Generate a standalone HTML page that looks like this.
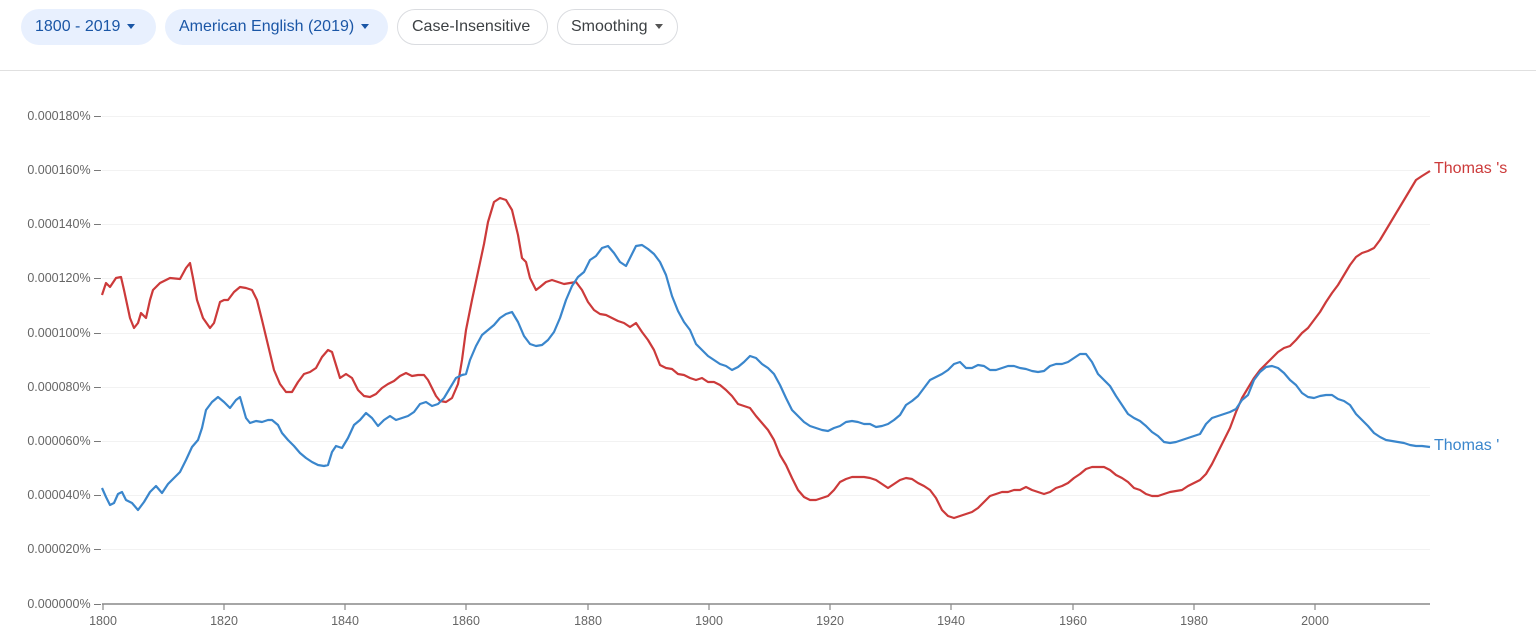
<!DOCTYPE html>
<html><head><meta charset="utf-8"><style>
html,body{margin:0;padding:0;background:#fff;width:1536px;height:640px;overflow:hidden;font-family:"Liberation Sans",Arial,sans-serif}
.chip{position:absolute;top:9px;height:36px;border-radius:18px;box-sizing:border-box;font-size:16px;line-height:36px;padding:0 14px;white-space:nowrap}
.b{background:#e8f0fe;color:#1a56a6}
.w{background:#fff;border:1px solid #dadce0;color:#3c4043;line-height:34px}
.car{display:inline-block;width:0;height:0;border-left:4px solid transparent;border-right:4px solid transparent;border-top:5px solid currentColor;margin-left:7px;vertical-align:middle}
.hr{position:absolute;top:70px;left:0;width:1536px;height:1px;background:#e0e0e0}
</style></head><body>
<div class="chip b" style="left:21px;width:135px">1800 - 2019<span class="car"></span></div>
<div class="chip b" style="left:165px;width:223px">American English (2019)<span class="car"></span></div>
<div class="chip w" style="left:397px;width:151px">Case-Insensitive</div>
<div class="chip w" style="left:557px;width:121px;padding-left:13px">Smoothing<span class="car" style="color:#555"></span></div>
<div class="hr"></div>
<svg width="1536" height="640" style="position:absolute;left:0;top:0" font-family="Liberation Sans, Arial, sans-serif">
<g stroke="#f2f2f2" stroke-width="1">
<line x1="102" x2="1430" y1="116.5" y2="116.5"/><line x1="102" x2="1430" y1="170.5" y2="170.5"/><line x1="102" x2="1430" y1="224.5" y2="224.5"/><line x1="102" x2="1430" y1="278.5" y2="278.5"/><line x1="102" x2="1430" y1="333.5" y2="333.5"/><line x1="102" x2="1430" y1="387.5" y2="387.5"/><line x1="102" x2="1430" y1="441.5" y2="441.5"/><line x1="102" x2="1430" y1="495.5" y2="495.5"/><line x1="102" x2="1430" y1="549.5" y2="549.5"/>
</g>
<g fill="#666" font-size="12.5" text-anchor="end">
<text x="101" y="120">0.000180% –</text><text x="101" y="174">0.000160% –</text><text x="101" y="228">0.000140% –</text><text x="101" y="282">0.000120% –</text><text x="101" y="337">0.000100% –</text><text x="101" y="391">0.000080% –</text><text x="101" y="445">0.000060% –</text><text x="101" y="499">0.000040% –</text><text x="101" y="553">0.000020% –</text><text x="101" y="608">0.000000% –</text>
</g>
<line x1="102" x2="1430" y1="604" y2="604" stroke="#888" stroke-width="1.5"/>
<g stroke="#888" stroke-width="1.2">
<line x1="103" x2="103" y1="604" y2="610"/><line x1="224" x2="224" y1="604" y2="610"/><line x1="345" x2="345" y1="604" y2="610"/><line x1="466" x2="466" y1="604" y2="610"/><line x1="588" x2="588" y1="604" y2="610"/><line x1="709" x2="709" y1="604" y2="610"/><line x1="830" x2="830" y1="604" y2="610"/><line x1="951" x2="951" y1="604" y2="610"/><line x1="1073" x2="1073" y1="604" y2="610"/><line x1="1194" x2="1194" y1="604" y2="610"/><line x1="1315" x2="1315" y1="604" y2="610"/>
</g>
<g fill="#666" font-size="12.5" text-anchor="middle">
<text x="103" y="625">1800</text><text x="224" y="625">1820</text><text x="345" y="625">1840</text><text x="466" y="625">1860</text><text x="588" y="625">1880</text><text x="709" y="625">1900</text><text x="830" y="625">1920</text><text x="951" y="625">1940</text><text x="1073" y="625">1960</text><text x="1194" y="625">1980</text><text x="1315" y="625">2000</text>
</g>
<polyline fill="none" stroke="#cc3a3a" stroke-width="2.2" stroke-linejoin="round" points="102,295 106,283 110,287 116,278 121,277 124,290 130,318 134,328 138,323 141,313 146,318 150,300 153,290 160,283 170,278 180,279 186,268 190,263 193,278 197,300 203,318 210,328 214,323 220,302 224,300 228,300 234,292 240,287 246,288 252,290 257,300 262,320 268,345 274,370 280,384 286,392 292,392 298,382 304,374 310,372 316,368 322,357 328,350 332,352 336,365 340,378 346,374 352,378 358,390 364,396 370,397 376,394 382,388 388,384 394,381 400,376 406,373 412,376 418,375 424,375 428,380 432,388 436,396 440,401 446,402 452,398 458,384 462,360 466,330 472,300 478,272 484,244 488,222 494,202 500,198 506,200 512,210 518,235 522,258 526,262 530,278 536,290 540,287 546,282 552,280 558,282 564,284 570,283 576,282 582,290 588,302 594,310 600,314 606,315 612,318 618,321 624,323 630,327 636,323 642,332 648,340 654,350 660,365 666,368 672,369 678,374 684,375 690,378 696,380 702,378 708,382 714,382 720,385 726,390 732,396 738,404 744,406 750,408 756,416 762,423 768,430 774,440 780,455 786,465 792,478 798,490 804,497 810,500 816,500 822,498 828,496 834,490 840,482 846,479 852,477 858,477 864,477 870,478 876,480 882,484 888,488 894,484 900,480 906,478 912,479 918,483 924,486 930,490 936,498 942,510 948,516 954,518 960,516 966,514 972,512 978,508 984,502 990,496 996,494 1002,492 1008,492 1014,490 1020,490 1026,487 1032,490 1038,492 1044,494 1050,492 1056,488 1062,486 1068,483 1074,478 1080,474 1086,469 1092,467 1098,467 1104,467 1110,470 1116,475 1122,478 1128,482 1134,488 1140,490 1146,494 1152,496 1158,496 1164,494 1170,492 1176,491 1182,490 1188,486 1194,483 1200,480 1206,474 1212,464 1218,452 1224,440 1230,428 1236,412 1242,398 1248,388 1254,378 1260,370 1266,364 1272,358 1278,352 1284,348 1290,346 1296,340 1302,333 1308,328 1314,320 1320,312 1326,302 1332,293 1338,285 1344,275 1350,265 1356,257 1362,253 1368,251 1374,248 1380,240 1386,230 1392,220 1398,210 1404,200 1410,190 1416,180 1422,176 1430,171"/>
<polyline fill="none" stroke="#3a86cc" stroke-width="2.2" stroke-linejoin="round" points="102,488 106,497 110,505 114,503 118,494 122,492 126,500 132,503 138,510 144,502 150,492 156,486 162,493 168,484 174,478 180,472 186,460 192,447 198,440 202,428 206,410 212,402 218,397 224,402 230,408 236,400 240,397 246,418 250,423 256,421 262,422 268,420 272,420 278,425 282,433 288,440 294,446 300,453 306,458 312,462 318,465 324,466 328,465 332,452 336,446 342,448 348,438 354,425 360,420 366,413 372,418 378,426 384,420 390,416 396,420 402,418 408,416 414,412 420,404 426,402 432,406 438,404 444,398 450,388 456,378 462,375 466,374 470,360 476,346 482,335 488,330 494,325 500,318 506,314 512,312 518,322 524,336 530,344 536,346 542,345 548,340 554,332 560,318 566,300 572,286 578,277 584,272 590,260 596,256 602,248 608,246 614,253 620,262 626,266 632,254 636,246 642,245 648,249 654,254 660,262 666,275 672,296 678,311 684,322 690,330 696,344 702,350 708,356 714,360 720,364 726,366 732,370 738,367 744,362 750,356 756,358 762,364 768,368 774,374 780,385 786,398 792,410 798,416 804,422 810,426 816,428 822,430 828,431 834,428 840,426 846,422 852,421 858,422 864,424 870,424 876,427 882,426 888,424 894,420 900,415 906,405 912,401 918,396 924,388 930,380 936,377 942,374 948,370 954,364 960,362 966,368 972,368 978,365 984,366 990,370 996,370 1002,368 1008,366 1014,366 1020,368 1026,369 1032,371 1038,372 1044,371 1050,366 1056,364 1062,364 1068,362 1074,358 1080,354 1086,354 1092,362 1098,374 1104,380 1110,386 1116,396 1122,405 1128,414 1134,418 1140,421 1146,426 1152,432 1158,436 1164,442 1170,443 1176,442 1182,440 1188,438 1194,436 1200,434 1206,424 1212,418 1218,416 1224,414 1230,412 1236,409 1242,400 1248,395 1254,380 1260,372 1266,367 1272,366 1278,368 1284,373 1290,380 1296,385 1302,393 1308,397 1314,398 1320,396 1326,395 1332,395 1338,399 1344,401 1350,405 1356,414 1362,420 1368,426 1374,433 1380,437 1386,440 1392,441 1398,442 1404,443 1410,445 1416,446 1422,446 1430,447"/>
<text x="1434" y="173" fill="#cc3a3a" font-size="16">Thomas 's</text>
<text x="1434" y="450" fill="#3a86cc" font-size="16">Thomas '</text>
</svg>
</body></html>
